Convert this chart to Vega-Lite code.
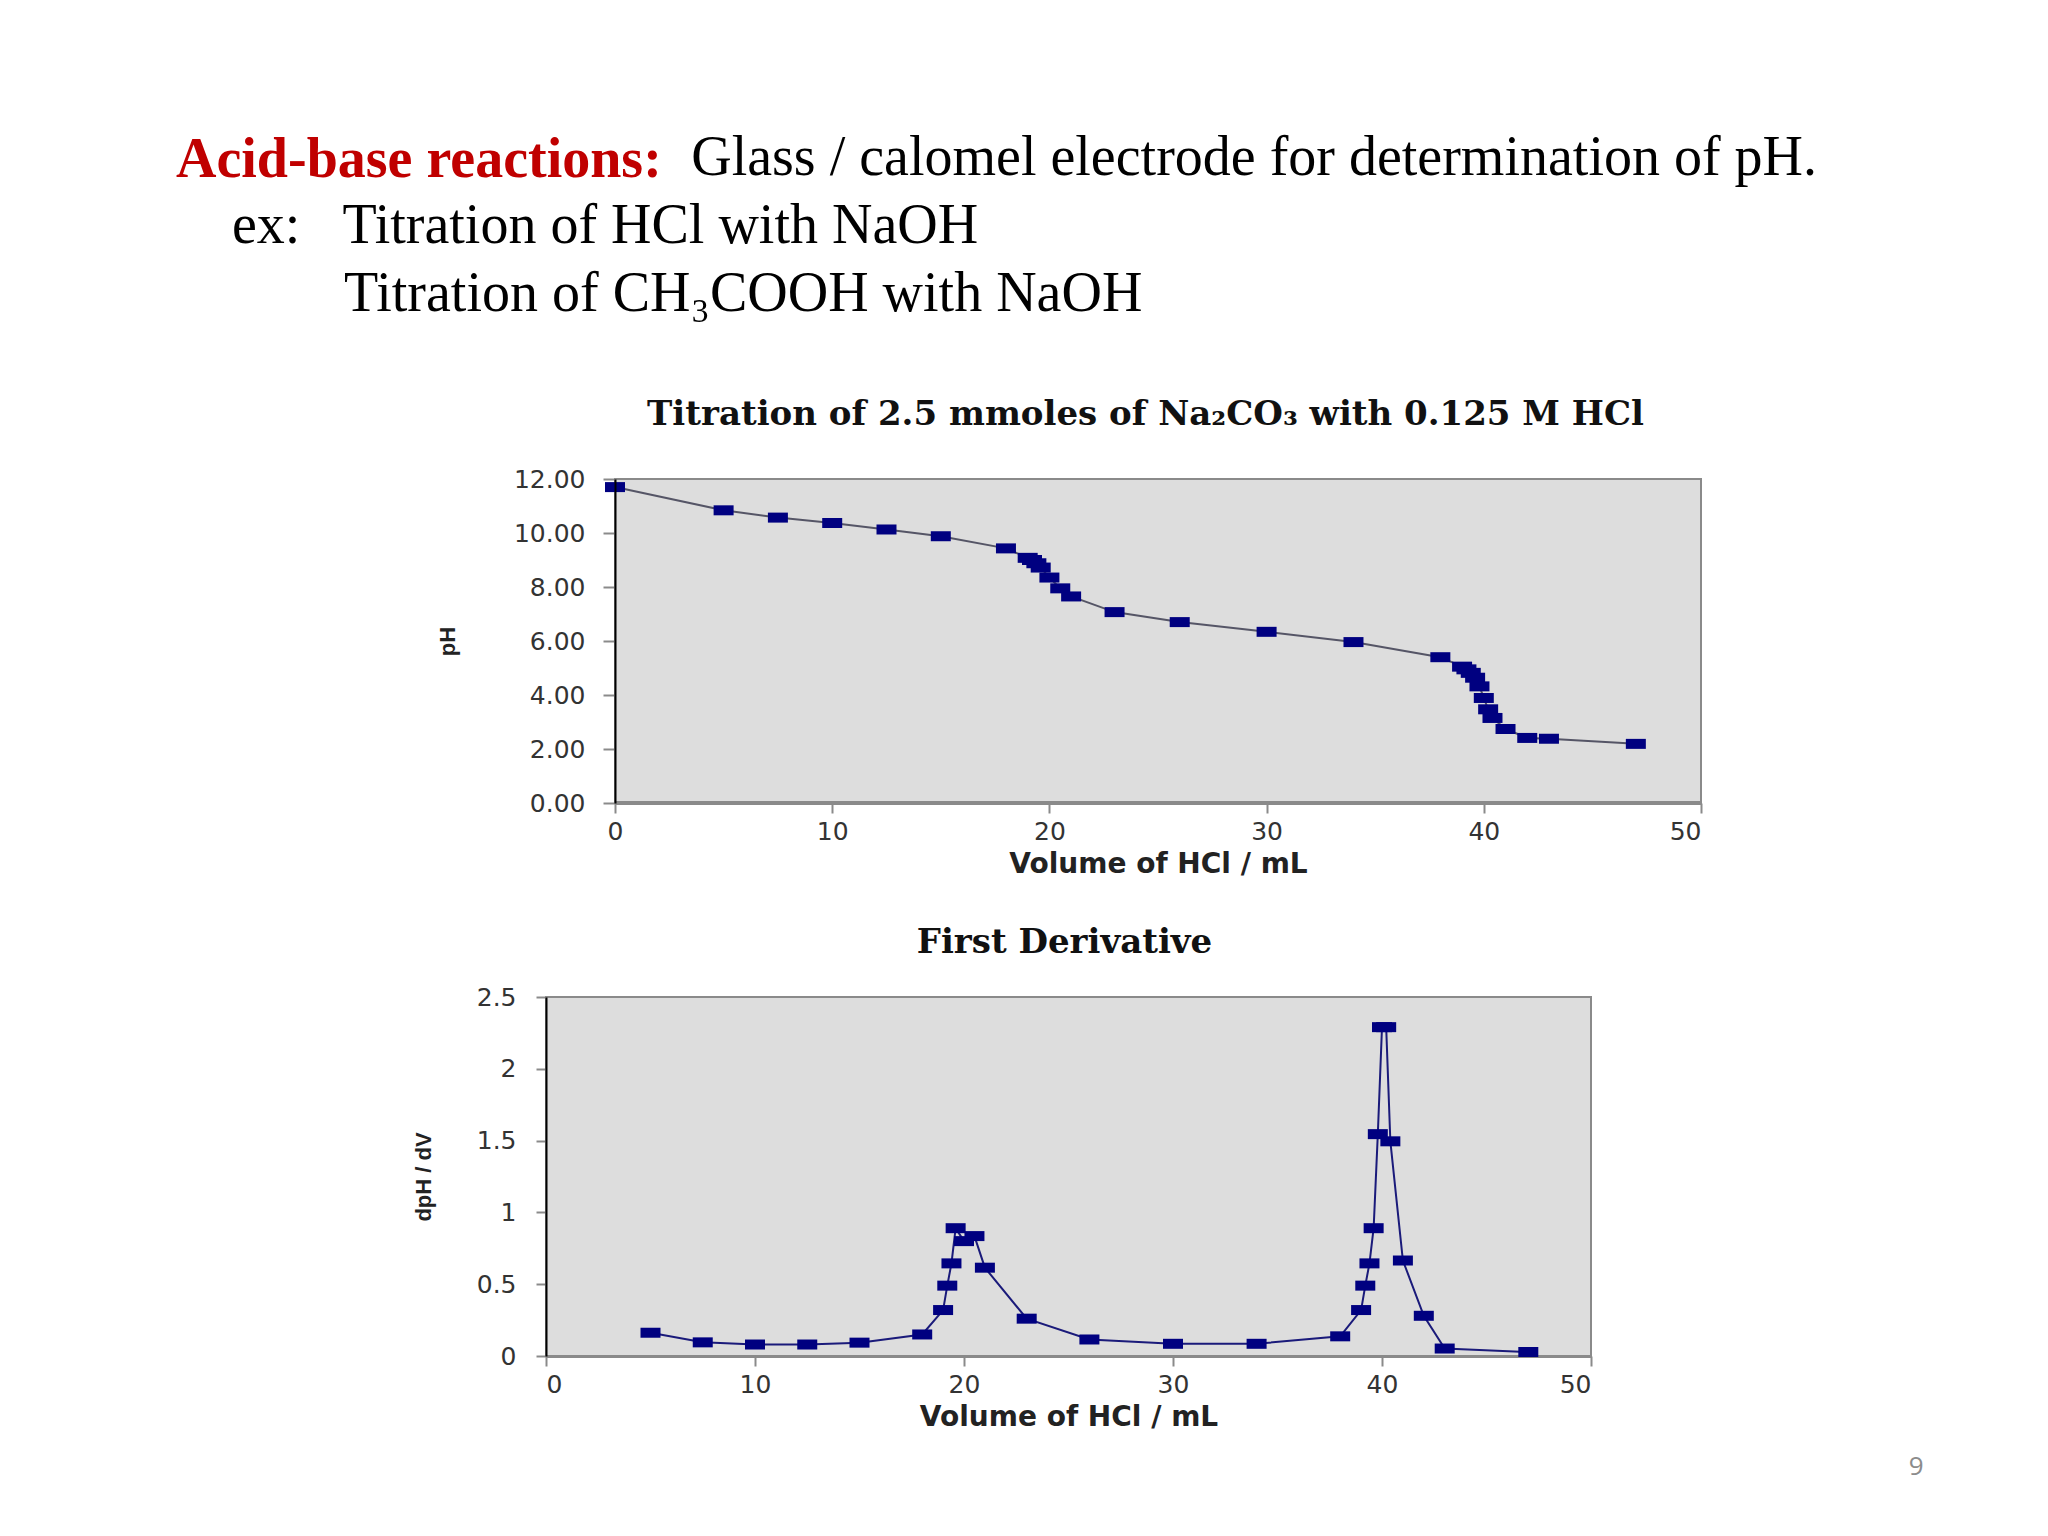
{
  "$schema": "https://vega.github.io/schema/vega-lite/v6.json",
  "background": "white",
  "padding": {"left": 176, "top": 130, "right": 60, "bottom": 40},
  "config": {
    "view": {"fill": "#dddddd", "stroke": "#8a8a8a", "strokeWidth": 2},
    "axis": {"grid": false, "labelFont": "DejaVu Sans", "labelFontSize": 25, "labelColor": "#333333", "tickColor": "#8a8a8a", "tickWidth": 2, "titleColor": "#222222"}
  },
  "title": {
    "text": "Acid-base reactions:",
    "subtitle": [
      "\u200b\u2003\u2003\u2003\u2003\u2003\u2003\u2003\u2003\u2003\u2009Glass / calomel electrode  for determination of pH.",
      "\u200b\u2003ex:\u2002\u2005Titration of HCl with NaOH",
      "\u200b\u2003\u2003\u2003Titration of CH\u2083COOH with NaOH"
    ],
    "anchor": "start",
    "font": "Liberation Serif",
    "fontSize": 56,
    "fontWeight": "bold",
    "color": "#c00000",
    "lineHeight": 68,
    "subtitleFont": "Liberation Serif",
    "subtitleFontSize": 56,
    "subtitleFontWeight": "normal",
    "subtitleColor": "#000000",
    "subtitleLineHeight": 68,
    "subtitlePadding": -58,
    "offset": 73,
    "dx": -235
  },
  "vconcat": [
    {
      "title": {"text": "9", "orient": "bottom", "anchor": "end", "font": "Open Sans", "fontSize": 26, "fontWeight": "normal", "color": "#8c8c8c", "dx": 221, "offset": 22},
      "spacing": 47,
      "vconcat": [
        {
          "width": 1155,
          "height": 324,
          "view": {"fill": null, "stroke": null},
          "title": {"text": "Titration of 2.5 mmoles of Na\u2082CO\u2083 with 0.125 M HCl", "font": "DejaVu Serif", "fontSize": 34, "fontWeight": "bold", "color": "#111111", "offset": 35, "anchor": "middle", "dx": 22},
          "data": {"values": [
            {"v": 0, "pH": 11.7}, {"v": 5, "pH": 10.84}, {"v": 7.5, "pH": 10.57}, {"v": 10, "pH": 10.37},
            {"v": 12.5, "pH": 10.13}, {"v": 15, "pH": 9.88}, {"v": 18, "pH": 9.43}, {"v": 19, "pH": 9.08},
            {"v": 19.2, "pH": 9.0}, {"v": 19.4, "pH": 8.88}, {"v": 19.6, "pH": 8.72}, {"v": 20, "pH": 8.35},
            {"v": 20.5, "pH": 7.95}, {"v": 21, "pH": 7.65}, {"v": 23, "pH": 7.07}, {"v": 26, "pH": 6.7},
            {"v": 30, "pH": 6.34}, {"v": 34, "pH": 5.96}, {"v": 38, "pH": 5.4}, {"v": 39, "pH": 5.05},
            {"v": 39.2, "pH": 4.95}, {"v": 39.4, "pH": 4.82}, {"v": 39.6, "pH": 4.64}, {"v": 39.8, "pH": 4.32},
            {"v": 40, "pH": 3.89}, {"v": 40.2, "pH": 3.47}, {"v": 40.4, "pH": 3.15}, {"v": 41, "pH": 2.74},
            {"v": 42, "pH": 2.41}, {"v": 43, "pH": 2.38}, {"v": 47, "pH": 2.19}
          ]},
          "encoding": {
            "x": {"field": "v", "type": "quantitative", "scale": {"domain": [-3.1768, 50], "nice": false, "zero": false},
              "axis": {"values": [0, 10, 20, 30, 40, 50], "title": "Volume of HCl / mL", "domain": false, "tickSize": 10, "labelPadding": 6, "titleFont": "DejaVu Sans", "titleFontSize": 28, "titleFontWeight": "bold", "titlePadding": 6, "titleX": 612}},
            "y": {"field": "pH", "type": "quantitative", "scale": {"domain": [0, 12], "nice": false},
              "axis": {"values": [0, 2, 4, 6, 8, 10, 12], "format": ".2f", "title": "pH", "offset": -69, "zindex": 2, "domainColor": "#000000", "domainWidth": 2, "tickSize": 12, "labelPadding": 18, "titleFont": "Liberation Sans", "titleFontSize": 22, "titleFontWeight": "bold", "titleX": -168, "titleBaseline": "middle"}}
          },
          "layer": [
            {"mark": {"type": "rect", "fill": "#dddddd", "stroke": "#8a8a8a", "strokeWidth": 2},
             "encoding": {"x": {"datum": 0, "type": "quantitative"}, "x2": {"datum": 50}, "y": {"datum": 0, "type": "quantitative"}, "y2": {"datum": 12}}},
            {"mark": {"type": "rule", "color": "#8a8a8a", "strokeWidth": 3},
             "encoding": {"x": {"datum": 0, "type": "quantitative"}, "x2": {"datum": 50}, "y": {"datum": 0, "type": "quantitative"}}},
            {"mark": {"type": "line", "color": "#555566", "strokeWidth": 2}},
            {"mark": {"type": "point", "shape": "M-1,-0.5L1,-0.5L1,0.5L-1,0.5Z", "filled": true, "color": "#000080", "size": 400, "opacity": 1}}
          ]
        },
        {
          "width": 1045,
          "height": 359,
          "title": {"text": "First Derivative", "font": "DejaVu Serif", "fontSize": 34, "fontWeight": "bold", "color": "#111111", "offset": 25, "anchor": "middle", "dx": -4},
          "data": {"values": [
            {"v": 5, "d": 0.162}, {"v": 7.5, "d": 0.095}, {"v": 10, "d": 0.08}, {"v": 12.5, "d": 0.08},
            {"v": 15, "d": 0.093}, {"v": 18, "d": 0.15}, {"v": 19, "d": 0.32}, {"v": 19.2, "d": 0.49},
            {"v": 19.4, "d": 0.645}, {"v": 19.6, "d": 0.89}, {"v": 20, "d": 0.8}, {"v": 20.5, "d": 0.835},
            {"v": 21, "d": 0.615}, {"v": 23, "d": 0.26}, {"v": 26, "d": 0.115}, {"v": 30, "d": 0.085},
            {"v": 34, "d": 0.085}, {"v": 38, "d": 0.137}, {"v": 39, "d": 0.32}, {"v": 39.2, "d": 0.49},
            {"v": 39.4, "d": 0.645}, {"v": 39.6, "d": 0.89}, {"v": 39.8, "d": 1.545}, {"v": 40, "d": 2.29},
            {"v": 40.2, "d": 2.29}, {"v": 40.4, "d": 1.495}, {"v": 41, "d": 0.665}, {"v": 42, "d": 0.28},
            {"v": 43, "d": 0.052}, {"v": 47, "d": 0.028}
          ]},
          "encoding": {
            "x": {"field": "v", "type": "quantitative", "scale": {"domain": [0, 50], "nice": false},
              "axis": {"values": [0, 10, 20, 30, 40, 50], "title": "Volume of HCl / mL", "domainColor": "#8a8a8a", "domainWidth": 3, "tickSize": 10, "labelPadding": 6, "titleFont": "DejaVu Sans", "titleFontSize": 28, "titleFontWeight": "bold", "titlePadding": 6}},
            "y": {"field": "d", "type": "quantitative", "scale": {"domain": [0, 2.5], "nice": false},
              "axis": {"values": [0, 0.5, 1, 1.5, 2, 2.5], "format": "~g", "title": "dpH / dV", "domainColor": "#000000", "domainWidth": 2, "tickSize": 10, "labelPadding": 20, "titleFont": "Liberation Sans", "titleFontSize": 22, "titleFontWeight": "bold", "titleX": -123, "titleBaseline": "middle"}}
          },
          "layer": [
            {"mark": {"type": "line", "color": "#1a1a7a", "strokeWidth": 2}},
            {"mark": {"type": "point", "shape": "M-1,-0.5L1,-0.5L1,0.5L-1,0.5Z", "filled": true, "color": "#000080", "size": 400, "opacity": 1}}
          ]
        }
      ]
    }
  ]
}
